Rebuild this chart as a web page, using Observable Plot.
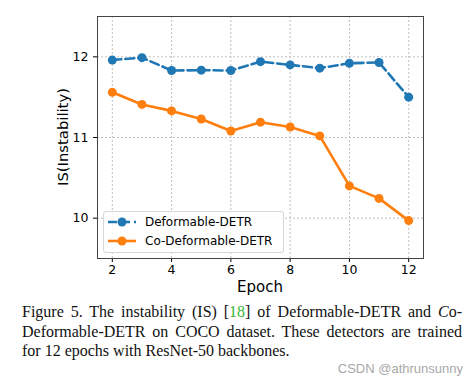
<!DOCTYPE html>
<html><head><meta charset="utf-8">
<script src="https://cdn.jsdelivr.net/npm/d3@7"></script>
<script src="https://cdn.jsdelivr.net/npm/@observablehq/plot@0.6"></script>
<style>
body{margin:0;background:#fff;width:474px;height:382px;overflow:hidden;position:relative;}
#chart{position:absolute;left:0;top:0;}
#xlabel{position:absolute;left:200px;width:120px;top:278px;text-align:center;font:15px "DejaVu Sans";line-height:18px;color:#000;}
#ylabel{position:absolute;left:63px;top:137px;width:160px;margin-left:-80px;margin-top:-9px;text-align:center;font:14.8px "DejaVu Sans";line-height:18px;transform:rotate(-90deg);color:#000;}
#legend{position:absolute;left:103px;top:211px;width:181px;height:42px;border:1px solid #d6d6d6;border-radius:3px;background:rgba(255,255,255,0.85);font:12px "DejaVu Sans";box-sizing:border-box;white-space:nowrap;}
#legend .row{position:absolute;left:0;height:18px;display:flex;align-items:center;}
#legend svg{margin-left:4px;margin-right:9px;}
#caption{position:absolute;left:22px;top:302px;width:440px;font:16px "Liberation Serif";line-height:19.5px;color:#111;}
#caption .j{text-align:justify;text-align-last:justify;}
#caption .ref{color:#33b533;}
#wm{position:absolute;right:11px;top:361px;font:13px "Liberation Sans";color:#a8a8a8;}
</style></head>
<body>
<div id="chart"></div>
<div id="xlabel"></div>
<div id="ylabel"></div>
<div id="legend"></div>
<div id="caption"></div>
<div id="wm">CSDN @athrunsunny</div>
<script>
const epochs = [2, 3, 4, 5, 6, 7, 8, 9, 10, 11, 12];
const deformableDETR = [11.96, 11.99, 11.83, 11.835, 11.83, 11.94, 11.90, 11.86, 11.92, 11.93, 11.50];
const coDeformableDETR = [11.56, 11.41, 11.33, 11.23, 11.08, 11.19, 11.13, 11.02, 10.40, 10.245, 9.97];
const xTicks = [2, 4, 6, 8, 10, 12];
const yTicks = [10, 11, 12];
const seriesNames = ["Deformable-DETR", "Co-Deformable-DETR"];
const seriesColors = ["#1f77b4", "#ff7f0e"];
const seriesDash = ["9,4", null];
const xLabel = "Epoch";
const yLabel = "IS(Instability)";

const series = [deformableDETR, coDeformableDETR];
const data = series.flatMap((vals, i) => vals.map((v, j) => ({epoch: epochs[j], value: v, name: seriesNames[i]})));

const grid = {stroke: "#b0b0b0", strokeOpacity: 1, strokeDasharray: "2,2", strokeWidth: 0.8};
const marks = [
  Plot.gridX(xTicks, grid),
  Plot.gridY(yTicks, grid),
  Plot.axisX({ticks: xTicks, tickFormat: d => String(d), tickSize: 4, tickPadding: 3, label: null, fontSize: 12.5}),
  Plot.axisY({ticks: yTicks, tickFormat: d => String(d), tickSize: 4, tickPadding: 5, label: null, fontSize: 12.5})
];
seriesNames.forEach((n, i) => {
  const d = data.filter(r => r.name === n);
  marks.push(Plot.line(d, {x: "epoch", y: "value", stroke: seriesColors[i], strokeWidth: 2.6, strokeDasharray: seriesDash[i] || undefined}));
  marks.push(Plot.dot(d, {x: "epoch", y: "value", fill: seriesColors[i], r: 4.5}));
});
marks.push(Plot.frame({stroke: "#444", strokeWidth: 1}));

const chart = Plot.plot({
  width: 474, height: 296,
  marginLeft: 97, marginTop: 16, marginRight: 51, marginBottom: 38,
  style: {fontFamily: "DejaVu Sans", fontSize: "12.5px", color: "#000", background: "transparent"},
  x: {domain: [1.5, 12.5]},
  y: {domain: [9.5, 12.5]},
  marks
});
document.getElementById("chart").appendChild(chart);
document.getElementById("xlabel").textContent = xLabel;
document.getElementById("ylabel").textContent = yLabel;

const legend = document.getElementById("legend");
seriesNames.forEach((n, i) => {
  const row = document.createElement("div");
  row.className = "row";
  row.style.top = (1 + i * 19) + "px";
  row.innerHTML = `<svg width="28" height="12"><line x1="0" y1="6" x2="28" y2="6" stroke="${seriesColors[i]}" stroke-width="2.6" ${seriesDash[i] ? `stroke-dasharray="${seriesDash[i]}"` : ""}/><circle cx="14" cy="6" r="4.5" fill="${seriesColors[i]}"/></svg><span>${n}</span>`;
  legend.appendChild(row);
});

document.getElementById("caption").innerHTML =
  `<div class="j">Figure 5. The instability (IS) [<span class="ref">18</span>] of Deformable-DETR and <i>C</i>o-</div>` +
  `<div class="j">Deformable-DETR on COCO dataset. These detectors are trained</div>` +
  `<div>for 12 epochs with ResNet-50 backbones.</div>`;
</script>
</body></html>
